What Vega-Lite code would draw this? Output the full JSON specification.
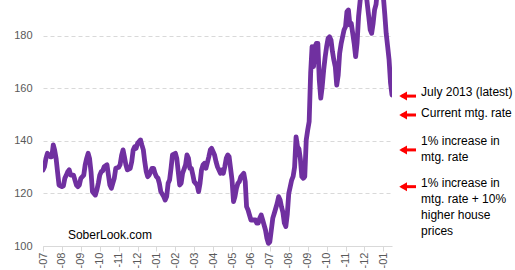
{
  "$schema": "https://vega.github.io/schema/vega-lite/v6.json",
  "width": 349,
  "height": 246,
  "autosize": {"type": "none"},
  "padding": {"left": 43, "top": 0, "right": 123, "bottom": 24},
  "background": "white",
  "config": {"view": {"stroke": null}, "font": "Liberation Sans"},
  "datasets": {
    "series": [
      {"date": "1993-07-01", "value": 128.9}, {"date": "1993-08-01", "value": 130.2}, {"date": "1993-09-01", "value": 133.4}, {"date": "1993-10-01", "value": 135.3}, {"date": "1993-12-01", "value": 134},
      {"date": "1994-01-01", "value": 134}, {"date": "1994-02-01", "value": 138.5}, {"date": "1994-03-01", "value": 136.6}, {"date": "1994-04-01", "value": 133.4}, {"date": "1994-05-01", "value": 128.3}, {"date": "1994-06-01", "value": 123.2}, {"date": "1994-08-01", "value": 122.6}, {"date": "1994-09-01", "value": 122.9}, {"date": "1994-10-01", "value": 125.8}, {"date": "1994-11-01", "value": 127}, {"date": "1994-12-01", "value": 128.3},
      {"date": "1995-01-01", "value": 129}, {"date": "1995-02-01", "value": 127}, {"date": "1995-04-01", "value": 127}, {"date": "1995-05-01", "value": 125.1}, {"date": "1995-06-01", "value": 123.2}, {"date": "1995-07-01", "value": 122.6}, {"date": "1995-08-01", "value": 123.2}, {"date": "1995-09-01", "value": 125.8}, {"date": "1995-11-01", "value": 127}, {"date": "1995-12-01", "value": 130.9},
      {"date": "1996-01-01", "value": 133.4}, {"date": "1996-02-01", "value": 135.3}, {"date": "1996-03-01", "value": 133.4}, {"date": "1996-04-01", "value": 128.3}, {"date": "1996-05-01", "value": 120.7}, {"date": "1996-07-01", "value": 119.4}, {"date": "1996-08-01", "value": 121.3}, {"date": "1996-09-01", "value": 123.9}, {"date": "1996-10-01", "value": 127}, {"date": "1996-11-01", "value": 128.3}, {"date": "1996-12-01", "value": 128.6},
      {"date": "1997-01-01", "value": 130.2}, {"date": "1997-03-01", "value": 130.9}, {"date": "1997-04-01", "value": 127}, {"date": "1997-05-01", "value": 123.2}, {"date": "1997-06-01", "value": 122}, {"date": "1997-07-01", "value": 123.9}, {"date": "1997-08-01", "value": 125.8}, {"date": "1997-09-01", "value": 129.6}, {"date": "1997-11-01", "value": 130}, {"date": "1997-12-01", "value": 131},
      {"date": "1998-01-01", "value": 134.5}, {"date": "1998-02-01", "value": 136.6}, {"date": "1998-03-01", "value": 134}, {"date": "1998-04-01", "value": 130.9}, {"date": "1998-05-01", "value": 129}, {"date": "1998-07-01", "value": 129.6}, {"date": "1998-08-01", "value": 132.1}, {"date": "1998-09-01", "value": 136.6}, {"date": "1998-10-01", "value": 137.8}, {"date": "1998-11-01", "value": 137.2}, {"date": "1998-12-01", "value": 139.1},
      {"date": "1999-02-01", "value": 140.4}, {"date": "1999-03-01", "value": 138.5}, {"date": "1999-04-01", "value": 136.6}, {"date": "1999-05-01", "value": 132.1}, {"date": "1999-06-01", "value": 128.3}, {"date": "1999-07-01", "value": 126.4}, {"date": "1999-08-01", "value": 127}, {"date": "1999-10-01", "value": 129.6}, {"date": "1999-11-01", "value": 129.6}, {"date": "1999-12-01", "value": 127.7},
      {"date": "2000-01-01", "value": 126.4}, {"date": "2000-02-01", "value": 125.8}, {"date": "2000-03-01", "value": 123.9}, {"date": "2000-04-01", "value": 120.7}, {"date": "2000-06-01", "value": 118.8}, {"date": "2000-07-01", "value": 117.5}, {"date": "2000-08-01", "value": 118.8}, {"date": "2000-09-01", "value": 123.9}, {"date": "2000-10-01", "value": 125.1}, {"date": "2000-11-01", "value": 129.6}, {"date": "2000-12-01", "value": 134.7},
      {"date": "2001-02-01", "value": 135.3}, {"date": "2001-03-01", "value": 133.4}, {"date": "2001-04-01", "value": 128.3}, {"date": "2001-05-01", "value": 123.2}, {"date": "2001-06-01", "value": 123.9}, {"date": "2001-07-01", "value": 127.7}, {"date": "2001-09-01", "value": 130.9}, {"date": "2001-10-01", "value": 134.7}, {"date": "2001-11-01", "value": 133.4}, {"date": "2001-12-01", "value": 129.6},
      {"date": "2002-01-01", "value": 129.6}, {"date": "2002-02-01", "value": 127}, {"date": "2002-03-01", "value": 124.5}, {"date": "2002-05-01", "value": 123.2}, {"date": "2002-06-01", "value": 120.7}, {"date": "2002-07-01", "value": 123.9}, {"date": "2002-08-01", "value": 129}, {"date": "2002-09-01", "value": 130.9}, {"date": "2002-10-01", "value": 131.5}, {"date": "2002-11-01", "value": 129.6},
      {"date": "2003-01-01", "value": 134}, {"date": "2003-02-01", "value": 136.6}, {"date": "2003-03-01", "value": 137.2}, {"date": "2003-04-01", "value": 135.9}, {"date": "2003-05-01", "value": 134.7}, {"date": "2003-06-01", "value": 132.1}, {"date": "2003-07-01", "value": 130.2}, {"date": "2003-09-01", "value": 127.7}, {"date": "2003-10-01", "value": 129}, {"date": "2003-11-01", "value": 127.7}, {"date": "2003-12-01", "value": 130.2},
      {"date": "2004-01-01", "value": 133.4}, {"date": "2004-02-01", "value": 134.7}, {"date": "2004-03-01", "value": 134}, {"date": "2004-05-01", "value": 125.1}, {"date": "2004-06-01", "value": 116.9}, {"date": "2004-07-01", "value": 118.8}, {"date": "2004-08-01", "value": 122}, {"date": "2004-09-01", "value": 123.9}, {"date": "2004-10-01", "value": 124.5}, {"date": "2004-11-01", "value": 126.4},
      {"date": "2005-01-01", "value": 127.7}, {"date": "2005-02-01", "value": 124.5}, {"date": "2005-03-01", "value": 115}, {"date": "2005-04-01", "value": 113.7}, {"date": "2005-05-01", "value": 111.8}, {"date": "2005-06-01", "value": 109.9}, {"date": "2005-08-01", "value": 109.9}, {"date": "2005-09-01", "value": 109.9}, {"date": "2005-10-01", "value": 108.7}, {"date": "2005-11-01", "value": 108.7}, {"date": "2005-12-01", "value": 110.6},
      {"date": "2006-01-01", "value": 111.8}, {"date": "2006-02-01", "value": 109.9}, {"date": "2006-04-01", "value": 106.1}, {"date": "2006-05-01", "value": 102.9}, {"date": "2006-06-01", "value": 101}, {"date": "2006-07-01", "value": 101.6}, {"date": "2006-08-01", "value": 106.1}, {"date": "2006-09-01", "value": 110.6}, {"date": "2006-10-01", "value": 112.4}, {"date": "2006-12-01", "value": 116.2},
      {"date": "2007-01-01", "value": 118.8}, {"date": "2007-02-01", "value": 117.5}, {"date": "2007-03-01", "value": 115}, {"date": "2007-04-01", "value": 112.8}, {"date": "2007-05-01", "value": 108.7}, {"date": "2007-06-01", "value": 107.4}, {"date": "2007-07-01", "value": 112}, {"date": "2007-08-01", "value": 120}, {"date": "2007-09-01", "value": 122.6}, {"date": "2007-10-01", "value": 125.1}, {"date": "2007-11-01", "value": 126.5}, {"date": "2007-12-01", "value": 130},
      {"date": "2008-01-01", "value": 141.6}, {"date": "2008-02-01", "value": 137.8}, {"date": "2008-03-01", "value": 137}, {"date": "2008-04-01", "value": 133}, {"date": "2008-05-01", "value": 126.4}, {"date": "2008-06-01", "value": 125.8}, {"date": "2008-07-01", "value": 126.4}, {"date": "2008-08-01", "value": 140.4}, {"date": "2008-09-01", "value": 144.2}, {"date": "2008-10-01", "value": 147.4}, {"date": "2008-11-01", "value": 165.8}, {"date": "2008-12-01", "value": 175.9},
      {"date": "2009-01-01", "value": 168.3}, {"date": "2009-02-01", "value": 176}, {"date": "2009-03-01", "value": 177.2}, {"date": "2009-04-01", "value": 177.2}, {"date": "2009-05-01", "value": 163.2}, {"date": "2009-06-01", "value": 156.3}, {"date": "2009-07-01", "value": 160.7}, {"date": "2009-08-01", "value": 167}, {"date": "2009-09-01", "value": 172}, {"date": "2009-10-01", "value": 175.9}, {"date": "2009-11-01", "value": 179.1}, {"date": "2009-12-01", "value": 179.7},
      {"date": "2010-01-01", "value": 178.5}, {"date": "2010-02-01", "value": 174}, {"date": "2010-03-01", "value": 170.9}, {"date": "2010-04-01", "value": 168.3}, {"date": "2010-05-01", "value": 161.3}, {"date": "2010-06-01", "value": 165.1}, {"date": "2010-07-01", "value": 173.4}, {"date": "2010-08-01", "value": 177}, {"date": "2010-09-01", "value": 179.7}, {"date": "2010-10-01", "value": 182.3}, {"date": "2010-11-01", "value": 183.5}, {"date": "2010-12-01", "value": 189.3},
      {"date": "2011-01-01", "value": 189.9}, {"date": "2011-02-01", "value": 184.2}, {"date": "2011-03-01", "value": 184.8}, {"date": "2011-04-01", "value": 181}, {"date": "2011-05-01", "value": 177.2}, {"date": "2011-06-01", "value": 172.1}, {"date": "2011-07-01", "value": 177.2}, {"date": "2011-08-01", "value": 187.4}, {"date": "2011-09-01", "value": 193}, {"date": "2011-10-01", "value": 198}, {"date": "2011-11-01", "value": 200}, {"date": "2011-12-01", "value": 199},
      {"date": "2012-01-01", "value": 197}, {"date": "2012-02-01", "value": 192}, {"date": "2012-03-01", "value": 187.4}, {"date": "2012-04-01", "value": 182.3}, {"date": "2012-05-01", "value": 181}, {"date": "2012-06-01", "value": 184.8}, {"date": "2012-07-01", "value": 189.9}, {"date": "2012-08-01", "value": 192}, {"date": "2012-09-01", "value": 198}, {"date": "2012-10-01", "value": 200}, {"date": "2012-11-01", "value": 199}, {"date": "2012-12-01", "value": 196},
      {"date": "2013-01-01", "value": 195}, {"date": "2013-02-01", "value": 188}, {"date": "2013-03-01", "value": 181}, {"date": "2013-04-01", "value": 176}, {"date": "2013-05-01", "value": 170.9}, {"date": "2013-06-01", "value": 162}, {"date": "2013-07-01", "value": 157.5}
    ],
    "notes": [
      {"note": "July 2013 (latest)", "level": 157.1, "top": 160.7},
      {"note": "Current mtg. rate", "level": 149.9, "top": 152.6},
      {"note": "1% increase in\nmtg. rate", "level": 136.6, "top": 141.8},
      {"note": "1% increase in\nmtg. rate + 10%\nhigher house\nprices", "level": 122.6, "top": 125.8}
    ],
    "credit": [
      {"text": "SoberLook.com", "date": "1994-12-05", "value": 104.2}
    ]
  },
  "layer": [
    {
      "data": {"name": "series"},
      "mark": {"type": "line", "color": "#7030A0", "strokeWidth": 4.8, "clip": true, "strokeJoin": "round", "strokeCap": "round"},
      "encoding": {
        "x": {
          "field": "date", "type": "temporal", "title": null,
          "scale": {"type": "utc", "domain": [{"year": 1993, "month": 7, "date": 1, "utc": true}, {"year": 2013, "month": 7, "date": 1, "utc": true}]},
          "axis": {
            "values": [
              {"year": 1993, "month": 7, "date": 1, "utc": true}, {"year": 1994, "month": 8, "date": 1, "utc": true}, {"year": 1995, "month": 9, "date": 1, "utc": true}, {"year": 1996, "month": 10, "date": 1, "utc": true}, {"year": 1997, "month": 11, "date": 1, "utc": true}, {"year": 1998, "month": 12, "date": 1, "utc": true}, {"year": 2000, "month": 1, "date": 1, "utc": true}, {"year": 2001, "month": 2, "date": 1, "utc": true}, {"year": 2002, "month": 3, "date": 1, "utc": true}, {"year": 2003, "month": 4, "date": 1, "utc": true}, {"year": 2004, "month": 5, "date": 1, "utc": true}, {"year": 2005, "month": 6, "date": 1, "utc": true}, {"year": 2006, "month": 7, "date": 1, "utc": true}, {"year": 2007, "month": 8, "date": 1, "utc": true}, {"year": 2008, "month": 9, "date": 1, "utc": true}, {"year": 2009, "month": 10, "date": 1, "utc": true}, {"year": 2010, "month": 11, "date": 1, "utc": true}, {"year": 2011, "month": 12, "date": 1, "utc": true}, {"year": 2013, "month": 1, "date": 1, "utc": true}
            ],
            "tickCount": 40,
            "labelExpr": "utcFormat(datum.value, '-%m')",
            "labelAngle": -90,
            "labelFont": "Liberation Sans",
            "labelFontSize": 11,
            "labelColor": "#595959",
            "labelPadding": 1,
            "labelOverlap": false,
            "labelFlush": false,
            "labelSeparation": 0,
            "domainColor": "#d9d9d9",
            "tickColor": "#d9d9d9",
            "tickSize": 5,
            "grid": false
          }
        },
        "y": {
          "field": "value", "type": "quantitative", "title": null,
          "scale": {"domain": [100, 193.7], "nice": false, "zero": false},
          "axis": {
            "values": [100, 120, 140, 160, 180],
            "grid": true,
            "gridColor": "#d9d9d9",
            "gridDash": [4, 3],
            "domain": false,
            "ticks": false,
            "labelPadding": 11,
            "labelFont": "Liberation Sans",
            "labelFontSize": 11,
            "labelColor": "#595959"
          }
        }
      }
    },
    {
      "data": {"name": "credit"},
      "mark": {"type": "text", "align": "left", "baseline": "middle", "fontSize": 12, "font": "Liberation Sans", "color": "#000000"},
      "encoding": {
        "x": {"field": "date", "type": "temporal", "title": null},
        "y": {"field": "value", "type": "quantitative", "title": null},
        "text": {"field": "text"}
      }
    },
    {
      "data": {"name": "notes"},
      "mark": {"type": "rule", "color": "#FF0000", "strokeWidth": 3},
      "encoding": {
        "x": {"datum": {"year": 2014, "month": 1, "date": 20, "utc": true}, "type": "temporal", "title": null},
        "x2": {"datum": {"year": 2014, "month": 11, "date": 16, "utc": true}},
        "y": {"field": "level", "type": "quantitative", "title": null}
      }
    },
    {
      "data": {"name": "notes"},
      "mark": {"type": "point", "shape": "triangle-left", "filled": true, "color": "#FF0000", "opacity": 1, "size": 81},
      "encoding": {
        "x": {"datum": {"year": 2014, "month": 2, "date": 19, "utc": true}, "type": "temporal", "title": null},
        "y": {"field": "level", "type": "quantitative", "title": null}
      }
    },
    {
      "data": {"name": "notes"},
      "mark": {"type": "text", "align": "left", "baseline": "top", "fontSize": 12, "lineHeight": 16, "lineBreak": "\n", "font": "Liberation Sans", "color": "#000000"},
      "encoding": {
        "x": {"datum": {"year": 2015, "month": 3, "date": 1, "utc": true}, "type": "temporal", "title": null},
        "y": {"field": "top", "type": "quantitative", "title": null},
        "text": {"field": "note"}
      }
    }
  ]
}
